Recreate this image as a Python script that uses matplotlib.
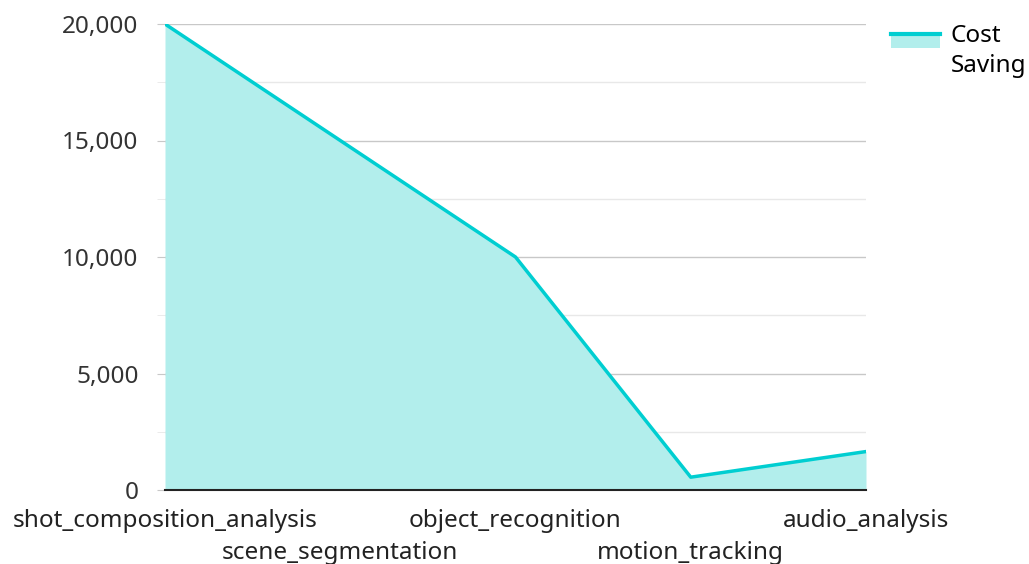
import matplotlib
matplotlib.use("Agg")
import matplotlib.pyplot as plt
from matplotlib.patches import Rectangle
from matplotlib.lines import Line2D
from matplotlib.legend_handler import HandlerBase
from matplotlib.ticker import FuncFormatter, MultipleLocator

plt.rcParams['font.family'] = ['Noto Sans', 'DejaVu Sans']

categories = ["shot_composition_analysis", "scene_segmentation", "object_recognition",
              "motion_tracking", "audio_analysis"]
cost_saving = [20000, 15000, 10000, 550, 1650]

line_color = "#00CED1"
fill_color = "#B2EEEC"
FS = 17.5

fig = plt.figure(figsize=(10.29, 5.64), dpi=100)
ax = fig.add_axes([165/1029, 1-490/564, (866-165)/1029, (490-24)/564])

x = list(range(len(categories)))
ax.fill_between(x, cost_saving, 0, color=fill_color, linewidth=0, zorder=2)
ax.plot(x, cost_saving, color=line_color, linewidth=2.5, zorder=3)

ax.set_xlim(0, len(categories)-1)
ax.set_ylim(0, 20000)
ax.yaxis.set_major_locator(MultipleLocator(5000))
ax.yaxis.set_minor_locator(MultipleLocator(2500))
ax.yaxis.set_major_formatter(FuncFormatter(lambda v, p: f"{int(v):,}"))
ax.grid(axis='y', which='major', color='#C8C8C8', linewidth=1, zorder=1)
ax.grid(axis='y', which='minor', color='#E8E8E8', linewidth=1, zorder=1)
ax.tick_params(axis='y', which='major', length=6, color='#C8C8C8', labelsize=FS,
               labelcolor='#333333', pad=13)
ax.tick_params(axis='y', which='minor', length=6, color='#E8E8E8')

even = [i for i in x if i % 2 == 0]
odd = [i for i in x if i % 2 == 1]
ax.set_xticks(even)
ax.set_xticklabels([categories[i] for i in even])
ax.set_xticks(odd, minor=True)
ax.set_xticklabels([categories[i] for i in odd], minor=True)
ax.tick_params(axis='x', which='major', length=0, labelsize=FS, labelcolor='#222222', pad=14)
ax.tick_params(axis='x', which='minor', length=0, labelsize=FS, labelcolor='#222222', pad=37)
for s in ['top', 'right', 'left']:
    ax.spines[s].set_visible(False)
ax.spines['bottom'].set_color('#222222')
ax.spines['bottom'].set_linewidth(1.5)
ax.spines['bottom'].set_zorder(4)


class AreaHandler(HandlerBase):
    def create_artists(self, legend, orig_handle, xdescent, ydescent, width, height,
                       fontsize, trans):
        shift = fontsize * 0.42
        top = height * 1.05 + shift
        bottom = height * 0.05 + shift
        rect = Rectangle((-xdescent, bottom - ydescent), width, top - bottom,
                         facecolor=fill_color, edgecolor='none', transform=trans)
        line = Line2D([-xdescent, width - xdescent], [top - ydescent, top - ydescent],
                      color=line_color, linewidth=3, transform=trans)
        return [rect, line]


proxy = Rectangle((0, 0), 1, 1)
leg = fig.legend([proxy], ["Cost\nSaving"], loc='upper left',
                 bbox_to_anchor=(891/1029, 1-24/564), frameon=False, fontsize=FS,
                 handler_map={Rectangle: AreaHandler()}, handlelength=2.0,
                 handleheight=0.5, handletextpad=0.45, borderaxespad=0, borderpad=0)
for t in leg.get_texts():
    t.set_linespacing(1.35)

fig.savefig("out.png", dpi=100)
